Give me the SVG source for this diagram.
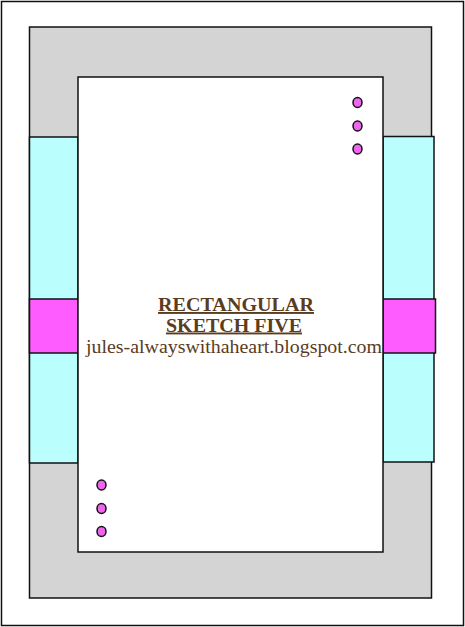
<svg xmlns="http://www.w3.org/2000/svg" width="465" height="627" viewBox="0 0 465 627">
<style>
.ln{stroke:#111;stroke-width:1.5}
.grey{fill:#d4d4d4}
.cyan{fill:#bafefe}
.mag{fill:#ff5cff}
.dot{fill:#ee66ee;stroke:#111;stroke-width:1.5}
.t{font-family:"Liberation Serif","Times New Roman",serif;fill:#5a3c1e;text-anchor:middle}
.h{font-weight:bold;text-decoration:underline}
</style>
<rect width="465" height="627" fill="#fff"/>
<g id="frame"><rect class="ln" x="1.5" y="1.5" width="462" height="624" fill="#fff"/></g>
<g id="mat"><rect class="ln grey" x="29.5" y="27" width="402" height="571"/></g>
<g id="left-strip">
<rect class="ln cyan" x="29.5" y="137" width="48.5" height="326"/>
<rect class="ln mag" x="29.5" y="299" width="48.5" height="54"/>
</g>
<g id="right-strip">
<rect class="ln cyan" x="383" y="136.5" width="51" height="325.5"/>
<rect class="ln mag" x="383" y="299" width="52.5" height="54"/>
</g>
<g id="card"><rect class="ln" x="78" y="77" width="305" height="475" fill="#fff"/></g>
<g id="dots-right">
<ellipse class="dot" cx="357.5" cy="102.5" rx="4.5" ry="5"/>
<ellipse class="dot" cx="357.5" cy="126" rx="4.5" ry="5"/>
<ellipse class="dot" cx="357.5" cy="149" rx="4.5" ry="5"/>
</g>
<g id="dots-left">
<ellipse class="dot" cx="101.5" cy="485" rx="4.5" ry="5"/>
<ellipse class="dot" cx="101.5" cy="508.5" rx="4.5" ry="5"/>
<ellipse class="dot" cx="101.5" cy="531.5" rx="4.5" ry="5"/>
</g>
<g id="title">
<text class="t h" x="236" y="311" font-size="19" textLength="156" lengthAdjust="spacingAndGlyphs">RECTANGULAR</text>
<text class="t h" x="234" y="331.5" font-size="19" textLength="136" lengthAdjust="spacingAndGlyphs">SKETCH FIVE</text>
<text class="t" x="234" y="353" font-size="18" textLength="296" lengthAdjust="spacingAndGlyphs">jules-alwayswithaheart.blogspot.com</text>
</g>
</svg>
